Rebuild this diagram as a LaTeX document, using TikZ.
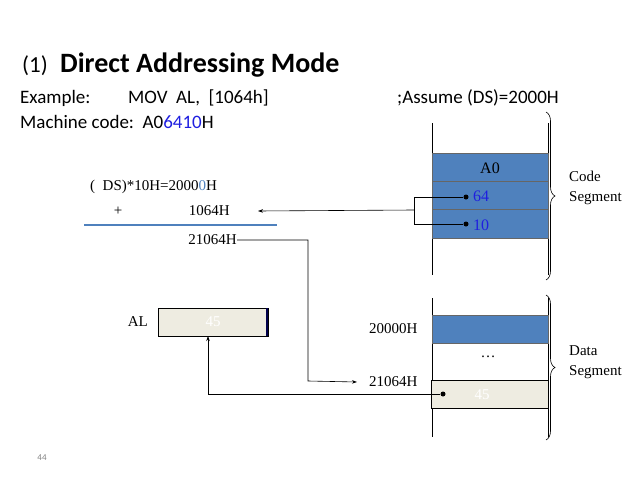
\documentclass[tikz,border=0pt]{standalone}
\usepackage{fontspec}
\setmainfont{Liberation Serif}
\newfontfamily\carfont{Carlito}
\usetikzlibrary{decorations.pathreplacing,arrows.meta}
\definecolor{bl}{HTML}{4F81BD}
\definecolor{gr}{HTML}{EEECE1}
\definecolor{tb}{HTML}{1F1FE0}
\begin{document}
\begin{tikzpicture}[x=1pt,y=-1pt,
  st/.style={font=\fontsize{15}{15}\selectfont,inner sep=0},
  hd/.style={font=\carfont\fontsize{19}{19}\selectfont,inner sep=0,anchor=west},
  cell/.style={draw=black!60,fill=bl,line width=0.6pt},
  ar/.style={-{Stealth[length=5pt,width=3.5pt]},line width=0.6pt},
  dot/.style={circle,fill=black,inner sep=0,minimum size=5pt},
  br/.style={decorate,decoration={brace,amplitude=9pt},line width=0.6pt}]
\useasboundingbox (0,0) rectangle (638,479);
\node[hd,font=\carfont\fontsize{23}{23}\selectfont] (t1) at (22,66) {(1)};
\node[hd,font=\carfont\bfseries\fontsize{28}{28}\selectfont] (t2) at (60,65) {Direct Addressing Mode};
\node[hd] (ex) at (20,98) {Example:};
\node[hd] (mov) at (128,98) {MOV\ \ AL,\ \ [1064h]};
\node[hd] (as) at (397,98) {;Assume (DS)=2000H};
\node[hd] (mc) at (20,122) {Machine code:\ \ A0\textcolor{tb}{6410}H};
% code segment
\draw[line width=0.8pt] (432,123) -- (432,275) (548,123) -- (548,275);
\draw[cell] (432,153) rectangle (548,181);
\draw[cell] (432,181) rectangle (548,209);
\draw[cell] (432,209) rectangle (548,238);
\node[st,font=\fontsize{16}{16}\selectfont] (a0) at (490,168) {A0};
\node[st,anchor=west,text=tb,font=\fontsize{16}{16}\selectfont] (v64) at (473,196) {64};
\node[st,anchor=west,text=tb,font=\fontsize{16}{16}\selectfont] (v10) at (473,225) {10};
\node[dot] (d1) at (466,197) {};
\node[dot] (d2) at (466,224) {};
\draw[br] (546,112) -- (546,280);
\node[st,anchor=west,align=left,font=\fontsize{15}{20}\selectfont] (cs) at (569,188) {Code\\Segment};
% calculation
\node[st,anchor=west] (ds) at (90,187) {(\ \ DS)*10H=2000\textcolor{bl}{0}H};
\node[st] (plus) at (118,211) {+};
\node[st,anchor=east] (off) at (230,211) {1064H};
\draw[bl,line width=1.2pt] (84,225) -- (277,225);
\node[st,anchor=east] (ea) at (237,240) {21064H};
\coordinate (j) at (414,210);
\draw[line width=0.6pt] (d1) -- (414,197) -- (414,224) -- (d2);
\draw[ar] (j) -- ([xshift=28pt]off.east);
% data segment
\draw[line width=0.8pt] (432,298) -- (432,437) (548,298) -- (548,437);
\draw[cell] (432,315) rectangle (548,343);
\node[st] (dots) at (488,357) {\dots};
\draw[draw=black,fill=gr,line width=0.8pt] (431,380) rectangle (548,408);
\node[st,text=white] (v45) at (482,395) {45};
\node[dot] (d3) at (443,394) {};
\draw[br] (546,295) -- (546,440);
\node[st,anchor=west,align=left,font=\fontsize{15}{20}\selectfont] (dseg) at (569,362) {Data\\Segment};
\node[st,anchor=west] (a1) at (369,329) {20000H};
\node[st,anchor=west] (a2) at (369,382) {21064H};
% AL
\node[st,anchor=east] (al) at (148,322) {AL};
\draw[draw=black,fill=gr,line width=0.6pt] (158,308) rectangle (268,336);
\draw[line width=1.5pt,draw=black!70!blue] (267,308) -- (267,336);
\node[st,text=white] (v45b) at (213,322) {45};
\coordinate (alb) at (208,336);
\draw[ar] (ea.east) -- (308,240) -- (308,381) -- ([xshift=-12pt]a2.west);
\draw[ar] (d3) -- (208,394) -- (alb);
\node[st,text=black!50,font=\carfont\fontsize{9}{9}\selectfont] (pg) at (42,458) {44};
\end{tikzpicture}
\end{document}
